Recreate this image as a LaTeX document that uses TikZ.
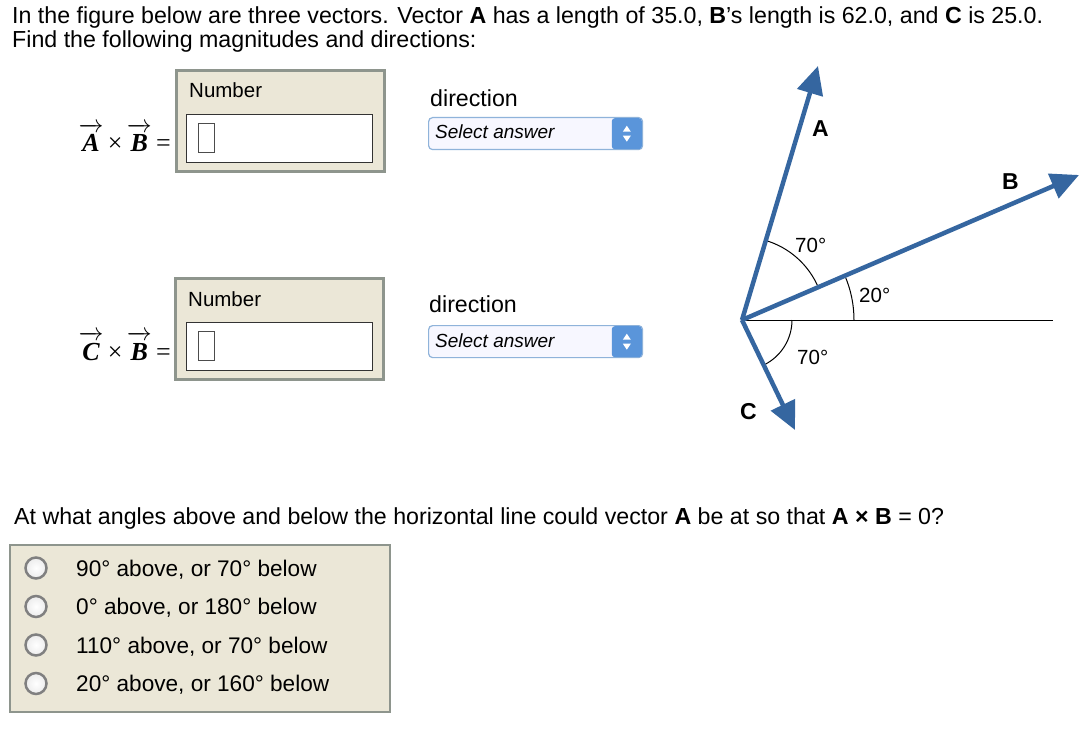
\documentclass[tikz,border=0pt]{standalone}
\usepackage{fontspec}
\setmainfont{Liberation Sans}
\newfontfamily\tms{Liberation Serif}
\usetikzlibrary{arrows.meta}
\definecolor{panel}{HTML}{EBE7D7}
\definecolor{panelbd}{HTML}{8E958D}
\definecolor{vec}{HTML}{3566A0}
\definecolor{selbd}{HTML}{8FB3DA}
\definecolor{selbtn}{HTML}{5A95DA}
\newcommand{\vv}[1]{$\overrightarrow{\hbox{\bfseries\itshape\rule{0pt}{0.8em}#1}}$}
\tikzset{x=1pt,y=-1pt,
 txt/.style={inner sep=0pt,anchor=base west,font=\fontsize{23.2}{27}\selectfont},
 sm/.style={inner sep=0pt,anchor=base west,font=\fontsize{20.5}{24}\selectfont},
 panelbox/.style={fill=panel,draw=panelbd,line width=3pt},
 vecline/.style={draw=vec,line width=4.5pt,-{Triangle[length=28pt,width=26pt]}},
 radio/.style={circle,draw=gray,line width=2.5pt,inner color=white,outer color=gray!15,minimum size=21pt,inner sep=0pt}}
\begin{document}
\begin{tikzpicture}
\useasboundingbox[fill=white] (0,0) rectangle (1087,738);
\node[txt] (t1) at (12,24) {In the figure below are three vectors. Vector \textbf{A} has a length of 35.0, \textbf{B}'s length is 62.0, and \textbf{C} is 25.0.};
\node[txt] (t2) at (12,48) {Find the following magnitudes and directions:};
% first row
\node[panelbox,minimum width=208pt,minimum height=101pt,anchor=north west] (p1) at (175,69) {};
\node[sm] (n1) at (189,98) {Number};
\node[draw=black!80,line width=1.2pt,fill=white,minimum width=186pt,minimum height=48pt,anchor=north west] (i1) at (186,114) {};
\node[draw=black!70,line width=0.8pt,minimum width=16pt,minimum height=29pt,anchor=north west] (c1) at (198,123) {};
\node[inner sep=0pt,anchor=base east,font=\tms\fontsize{26}{30}\selectfont] (e1) at (171,152) {\vv{A}\,×\,\vv{B}\,=};
\node[txt] (d1) at (430,107) {direction};
\node[draw=selbd,line width=1.2pt,fill=blue!3,rounded corners=4pt,minimum width=214pt,minimum height=32pt,anchor=north west] (s1) at (428,117) {};
\node[fill=selbtn,rounded corners=3pt,minimum width=30pt,minimum height=31pt,anchor=north east] (b1) at (642,118) {};
\node[sm,font=\itshape\fontsize{19}{22}\selectfont] (st1) at (435,139) {Select answer};
\fill[white] ([xshift=-4pt,yshift=2pt]b1.center) -- ([xshift=4pt,yshift=2pt]b1.center) -- ([yshift=8pt]b1.center) -- cycle;
\fill[white] ([xshift=-4pt,yshift=-2pt]b1.center) -- ([xshift=4pt,yshift=-2pt]b1.center) -- ([yshift=-8pt]b1.center) -- cycle;
% second row
\node[panelbox,minimum width=208pt,minimum height=101pt,anchor=north west] (p2) at (174,277) {};
\node[sm] (n2) at (188,306) {Number};
\node[draw=black!80,line width=1.2pt,fill=white,minimum width=186pt,minimum height=48pt,anchor=north west] (i2) at (186,322) {};
\node[draw=black!70,line width=0.8pt,minimum width=16pt,minimum height=29pt,anchor=north west] (c2) at (198,331) {};
\node[inner sep=0pt,anchor=base east,font=\tms\fontsize{26}{30}\selectfont] (e2) at (171,360) {\vv{C}\,×\,\vv{B}\,=};
\node[txt] (d2) at (429,312) {direction};
\node[draw=selbd,line width=1.2pt,fill=blue!3,rounded corners=4pt,minimum width=214pt,minimum height=32pt,anchor=north west] (s2) at (428,325) {};
\node[fill=selbtn,rounded corners=3pt,minimum width=30pt,minimum height=31pt,anchor=north east] (b2) at (642,326) {};
\node[sm,font=\itshape\fontsize{19}{22}\selectfont] (st2) at (435,347) {Select answer};
\fill[white] ([xshift=-4pt,yshift=2pt]b2.center) -- ([xshift=4pt,yshift=2pt]b2.center) -- ([yshift=8pt]b2.center) -- cycle;
\fill[white] ([xshift=-4pt,yshift=-2pt]b2.center) -- ([xshift=4pt,yshift=-2pt]b2.center) -- ([yshift=-8pt]b2.center) -- cycle;
% vectors
\coordinate (O) at (742,320);
\coordinate (Ae) at (818,66);
\coordinate (Be) at (1079,175);
\coordinate (Ce) at (795,430);
\coordinate (H) at (1053,320);
\draw[line width=1pt] (O) -- (H);
\draw[line width=1pt] (O) ++(-73.5:83) arc[start angle=-73.5,end angle=-23.3,radius=83];
\draw[line width=1pt] (O) ++(0:112) arc[start angle=0,end angle=-23.3,radius=112];
\draw[line width=1pt] (O) ++(0:50) arc[start angle=0,end angle=64,radius=50];
\draw[vecline] (O) -- (Ae);
\draw[vecline] (O) -- (Be);
\draw[vecline] (O) -- (Ce);
\node[txt,font=\bfseries\fontsize{23}{27}\selectfont] (la) at (812,137) {A};
\node[txt,font=\bfseries\fontsize{23}{27}\selectfont] (lb) at (1002,190) {B};
\node[txt,font=\bfseries\fontsize{23}{27}\selectfont] (lc) at (740,419) {C};
\node[sm] (a70) at (795,252) {70°};
\node[sm] (a20) at (859,302) {20°};
\node[sm] (c70) at (797,364) {70°};
% question
\node[txt] (q) at (14,524) {At what angles above and below the horizontal line could vector \textbf{A} be at so that \textbf{A} \textbf{×} \textbf{B} = 0?};
\node[fill=panel,draw=panelbd,line width=2pt,minimum width=380pt,minimum height=167pt,anchor=north west] (p3) at (9,544) {};
\foreach \i/\t in {0/{90° above, or 70° below},1/{0° above, or 180° below},2/{110° above, or 70° below},3/{20° above, or 160° below}}{
  \node[radio] (r\i) at (36,568+38.5*\i) {};
  \node[sm,font=\fontsize{22.6}{26}\selectfont] (o\i) at (76,576+38.5*\i) {\t};
}
\end{tikzpicture}
\end{document}
